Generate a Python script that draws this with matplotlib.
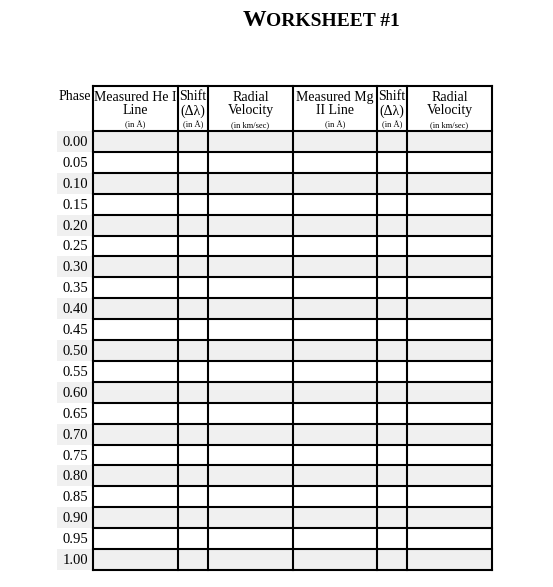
import matplotlib
matplotlib.use("Agg")
import matplotlib.pyplot as plt
from matplotlib.patches import Rectangle

phases = ["0.00","0.05","0.10","0.15","0.20","0.25","0.30","0.35","0.40","0.45","0.50",
          "0.55","0.60","0.65","0.70","0.75","0.80","0.85","0.90","0.95","1.00"]
headers = [("Measured He I\nLine", "(in Å)"), ("Shift\n(Δλ)", "(in Å)"),
           ("Radial\nVelocity", "(in km/sec)"), ("Measured Mg\nII Line", "(in Å)"),
           ("Shift\n(Δλ)", "(in Å)"), ("Radial\nVelocity", "(in km/sec)")]

plt.rcParams['font.family'] = ['Liberation Serif', 'DejaVu Serif']
fig = plt.figure(figsize=(5.53, 5.87), dpi=100)
ax = fig.add_axes([0, 0, 1, 1])
ax.set_xlim(0, 553); ax.set_ylim(587, 0); ax.axis('off')

cols = [93, 178, 208, 293, 377, 407, 492]
top, hb, bot = 86, 131, 570
rh = (bot - hb) / len(phases)
gray = '#f0f0f0'

for i, p in enumerate(phases):
    y = hb + i * rh
    if i % 2 == 0:
        ax.add_patch(Rectangle((57, y), cols[-1] - 57, rh, facecolor=gray, edgecolor='none', zorder=0))
    ax.text(88, y + rh / 2 + 1, p, ha='right', va='center', fontsize=10.5)
    ax.plot([cols[0], cols[-1]], [y, y], color='black', lw=1.5)
ax.plot([cols[0], cols[-1]], [bot, bot], color='black', lw=1.5)
ax.plot([cols[0], cols[-1]], [top, top], color='black', lw=1.5)
for x in cols:
    ax.plot([x, x], [top, bot], color='black', lw=1.5)

ax.text(91, 97, "Phase", ha='right', va='center', fontsize=10)
for j, (h, u) in enumerate(headers):
    cx = (cols[j] + cols[j + 1]) / 2
    ax.text(cx, 104, h, ha='center', va='center', fontsize=10, linespacing=1.05)
    ax.text(cx, 125, u, ha='center', va='center', fontsize=6)

ax.text(243, 20, "W", ha='left', va='center', fontsize=17, fontweight='bold')
ax.text(266, 21.5, "ORKSHEET #1", ha='left', va='center', fontsize=14, fontweight='bold')
fig.savefig("out.png", dpi=100)
